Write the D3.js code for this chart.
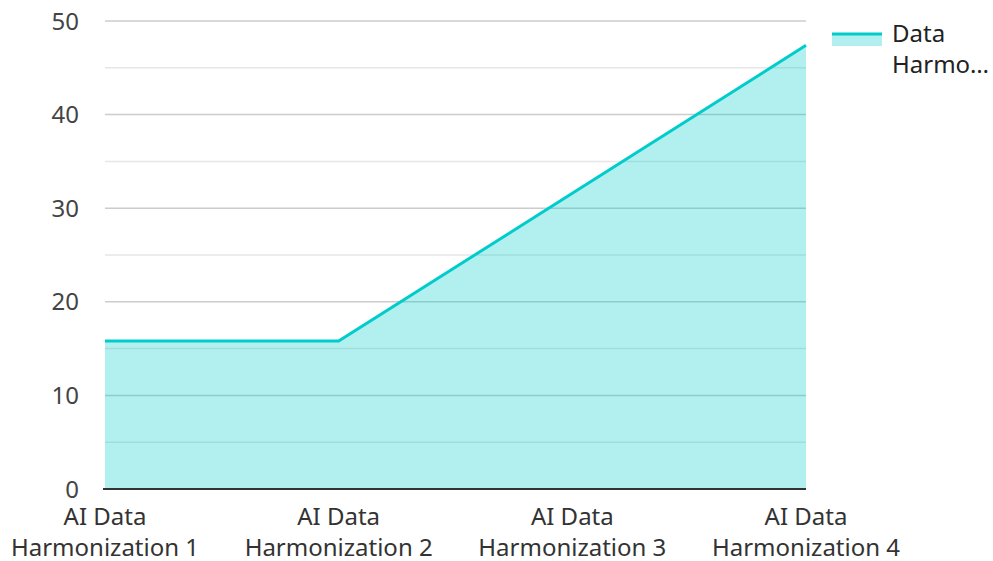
<!DOCTYPE html>
<html>
<head>
<meta charset="utf-8">
<script src="https://cdn.jsdelivr.net/npm/d3@7"></script>
<style>
  body { margin: 0; background: #fff; }
  text { font-family: "Noto Sans", "Open Sans", sans-serif; }
</style>
</head>
<body>
<svg width="993" height="561"></svg>
<script>
const categories = ["AI Data Harmonization 1", "AI Data Harmonization 2", "AI Data Harmonization 3", "AI Data Harmonization 4"]
const values = [15.8, 15.8, 31.6, 47.4]
const seriesName = "Data Harmonization"
const yTicks = [0, 10, 20, 30, 40, 50]
const yMinor = [5, 15, 25, 35, 45]

const svg = d3.select("svg")
const plotLeft = 105, plotRight = 806, plotTop = 21, plotBottom = 489

const x = d3.scalePoint().domain(categories).range([plotLeft, plotRight]).padding(0)
const y = d3.scaleLinear().domain([0, 50]).range([plotBottom, plotTop])

// grid
const grid = svg.append("g")
grid.selectAll(".minor")
    .data(yMinor)
    .enter()
    .append("line")
    .attr("x1", plotLeft).attr("x2", plotRight)
    .attr("y1", d => y(d)).attr("y2", d => y(d))
    .attr("stroke", "#e6e6e6")
    .attr("stroke-width", 1.5)
grid.selectAll(".major")
    .data(yTicks.filter(d => d > 0))
    .enter()
    .append("line")
    .attr("x1", plotLeft).attr("x2", plotRight)
    .attr("y1", d => y(d)).attr("y2", d => y(d))
    .attr("stroke", "#cccccc")
    .attr("stroke-width", 1.5)

const pts = categories.map((c, i) => ({c, v: values[i]}))

// area + line
svg.append("path")
    .datum(pts)
    .attr("fill", "rgba(0, 204, 204, 0.3)")
    .attr("d", d3.area().x(d => x(d.c)).y0(y(0)).y1(d => y(d.v)))

svg.append("path")
    .datum(pts)
    .attr("fill", "none")
    .attr("stroke", "#00cccc")
    .attr("stroke-width", 3)
    .attr("d", d3.line().x(d => x(d.c)).y(d => y(d.v)))

// x axis line
svg.append("line")
    .attr("x1", plotLeft - 2).attr("x2", plotRight)
    .attr("y1", y(0)).attr("y2", y(0))
    .attr("stroke", "#333")
    .attr("stroke-width", 2)

// y tick labels
svg.append("g").selectAll("text")
    .data(yTicks)
    .enter()
    .append("text")
    .attr("x", 79)
    .attr("y", d => y(d) + 8.5)
    .attr("text-anchor", "end")
    .attr("font-size", 24)
    .attr("fill", "#444")
    .text(d => d)

// x labels, two lines
const xl = svg.append("g").selectAll("text")
    .data(categories)
    .enter()
    .append("text")
    .attr("text-anchor", "middle")
    .attr("font-size", 24)
    .attr("fill", "#333")
xl.append("tspan")
    .attr("x", d => x(d)).attr("y", 525)
    .text(d => d.split(" ").slice(0, 2).join(" "))
xl.append("tspan")
    .attr("x", d => x(d)).attr("y", 556)
    .text(d => d.split(" ").slice(2).join(" "))

// legend
const lg = svg.append("g")
lg.append("rect")
    .attr("x", 832).attr("y", 33).attr("width", 50).attr("height", 13)
    .attr("fill", "rgba(0, 204, 204, 0.3)")
lg.append("line")
    .attr("x1", 832).attr("x2", 882).attr("y1", 34).attr("y2", 34)
    .attr("stroke", "#00cccc").attr("stroke-width", 3)
lg.append("text")
    .attr("x", 892).attr("y", 42)
    .attr("font-size", 24).attr("fill", "#222")
    .text(seriesName.split(" ")[0])
lg.append("text")
    .attr("x", 892).attr("y", 73)
    .attr("font-size", 24).attr("fill", "#222")
    .text(seriesName.split(" ")[1].slice(0, 5) + "…")
</script>
</body>
</html>
